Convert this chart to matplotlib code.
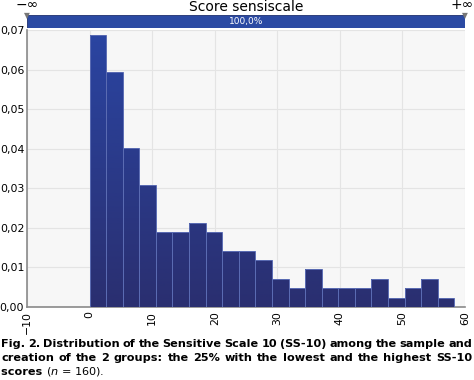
import numpy as np
import matplotlib.pyplot as plt
from matplotlib.ticker import FuncFormatter
from matplotlib.path import Path
from matplotlib.patches import PathPatch
from matplotlib.colors import LinearSegmentedColormap

# histogram of SS-10 scores (density), 22 bins from 0 to ~58.3
bin_left = 0.0
bin_width = 2.65
density = [0.0688, 0.0593, 0.0403, 0.0308, 0.0190, 0.0190, 0.0213, 0.0190,
           0.0142, 0.0142, 0.0119, 0.0071, 0.0047, 0.0095, 0.0047, 0.0047,
           0.0047, 0.0071, 0.0024, 0.0047, 0.0071, 0.0024]
x_ticks = [-10, 0, 10, 20, 30, 40, 50, 60]
y_ticks = [0.00, 0.01, 0.02, 0.03, 0.04, 0.05, 0.06, 0.07]
banner_label = '100,0%'
title = 'Score sensiscale'
caption = ['Fig. 2. Distribution of the Sensitive Scale 10 (SS-10) among the sample and',
           'creation of the 2 groups: the 25% with the lowest and the highest SS-10']

W, H = 474, 380
fig = plt.figure(figsize=(W / 100, H / 100), dpi=100)

ax = fig.add_axes([27 / W, 1 - 307 / H, (465 - 27) / W, (307 - 30) / H])
ax.set_facecolor('#f7f7f7')
lefts = bin_left + bin_width * np.arange(len(density))
bars = ax.bar(lefts, density, width=bin_width, align='edge', facecolor='none',
              edgecolor='#5b6cb3', linewidth=0.7, zorder=4)
ax.set_xlim(-10, 60)
ax.set_ylim(0, 0.07)

# vertical gradient fill, clipped to the bars
cmap = LinearSegmentedColormap.from_list('bl', ['#2a2f70', '#2a45a2'])
grad = np.linspace(0, 1, 256).reshape(-1, 1)
img = ax.imshow(grad, cmap=cmap, origin='lower', extent=[-10, 60, 0, 0.07],
                aspect='auto', zorder=3)
clip = Path.make_compound_path(*[b.get_path().transformed(b.get_patch_transform()) for b in bars])
clip_patch = PathPatch(clip, transform=ax.transData, facecolor='none', edgecolor='none')
ax.add_patch(clip_patch)
img.set_clip_path(clip_patch)

ax.set_xticks(x_ticks)
ax.set_yticks(y_ticks)
ax.yaxis.set_major_formatter(FuncFormatter(lambda v, p: f'{v:.2f}'.replace('.', ',')))
ax.grid(True, color='#e4e4e4', linewidth=0.8, zorder=0)
for s in ['top', 'right']:
    ax.spines[s].set_visible(False)
for s in ['left', 'bottom']:
    ax.spines[s].set_color('#8a8a8a')
    ax.spines[s].set_linewidth(1.2)
ax.tick_params(axis='both', colors='#8a8a8a', length=0, labelcolor='black', labelsize=7.8)
ax.tick_params(axis='x', labelrotation=90, pad=3)
ax.tick_params(axis='y', pad=2)

# banner above the plot
bx = fig.add_axes([27 / W, 1 - 28 / H, (465 - 27) / W, 13 / H])
bx.barh([0], [1], left=0, height=1, color='#2b4aa3', edgecolor='#1e2f6e', linewidth=0.6)
bx.set_xlim(0, 1)
bx.set_ylim(-0.5, 0.5)
bx.axis('off')
bx.text(0.5, 0, banner_label, color='white', ha='center', va='center', fontsize=6.5)

fig.text(246 / W, 1 - 7 / H, title, ha='center', va='center', fontsize=10)
fig.text(27 / W, 1 - 5 / H, '−∞', ha='center', va='center', fontsize=10)
fig.text(462 / W, 1 - 5 / H, '+∞', ha='center', va='center', fontsize=10)
for xp in [27, 465]:
    fig.text(xp / W, 1 - 16 / H, '▼', ha='center', va='center', fontsize=5.5, color='#777777')

# caption: justified lines, words placed one by one
fig.canvas.draw()
r = fig.canvas.get_renderer()
fs = 8.1
for i, line in enumerate(caption):
    words = line.split(' ')
    texts = [fig.text(0, 1 - (344 + 14 * i) / H, wd, ha='left', va='center',
                      fontsize=fs, fontweight='bold') for wd in words]
    widths = [t.get_window_extent(r).width for t in texts]
    gap = (471 - sum(widths)) / (len(words) - 1)
    x = 1.0
    for t, w in zip(texts, widths):
        t.set_x(x / W)
        x += w + gap
t3 = fig.text(1 / W, 1 - 372 / H, 'scores ', ha='left', va='center', fontsize=fs, fontweight='bold')
w3 = t3.get_window_extent(r).width
fig.text((1 + w3) / W, 1 - 372 / H, '($n$ = 160).', ha='left', va='center', fontsize=fs)

fig.savefig('out.png', dpi=100)
